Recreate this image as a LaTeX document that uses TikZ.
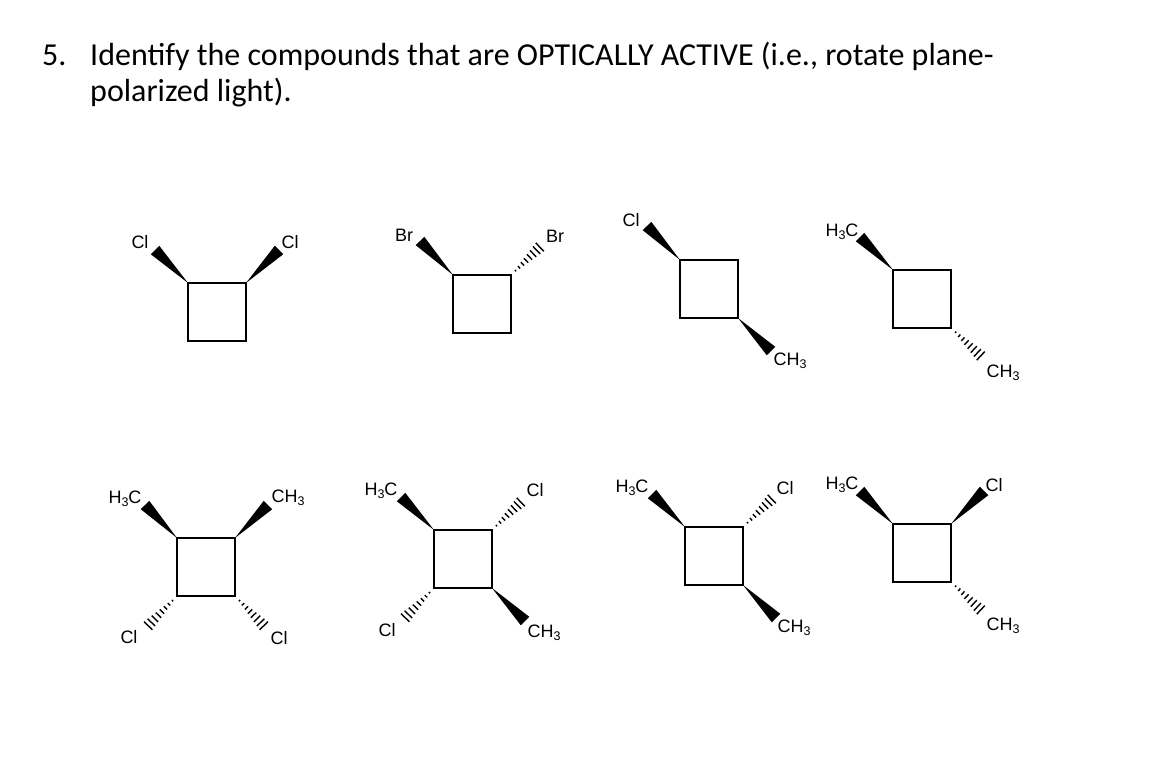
\documentclass[tikz,border=0pt]{standalone}
\usepackage{fontspec}
\setmainfont{Carlito}
\newfontfamily\arialfont{Liberation Sans}
\usetikzlibrary{calc}

\tikzset{
  atom/.style={inner sep=0pt,font=\arialfont\fontsize{18}{20}\selectfont},
  title/.style={inner sep=0pt,anchor=base west,font=\fontsize{32}{38}\selectfont},
  ring/.style={line width=1.5pt,line join=miter}
}
\newcommand{\lowthree}{\raisebox{-3.5pt}{\fontsize{12.5}{14}\selectfont 3}}

% square ring with corners #11 .. #14 (clockwise from top left)
\newcommand{\ringbox}[3]{
  \coordinate (#11) at (#2,#3);
  \coordinate (#12) at (#2+58,#3);
  \coordinate (#13) at (#2+58,#3+58);
  \coordinate (#14) at (#2,#3+58);
  \draw[ring] (#11) -- (#12) -- (#13) -- (#14) -- cycle;
}
% solid wedge from a corner
\newcommand{\wedgebond}[2]{
  \coordinate (#1end) at ($(#1)+(#2)$);
  \fill (#1) -- ($(#1end)!6pt!90:(#1)$) -- ($(#1end)!6pt!-90:(#1)$) -- cycle;
}
% hashed wedge from a corner
\newcommand{\hashbond}[2]{
  \coordinate (#1end) at ($(#1)+(#2)$);
  \foreach \t in {0.14,0.25,0.36,0.47,0.58,0.69,0.80,0.90,1.0}{
    \coordinate (hc) at ($(#1)!\t!(#1end)$);
    \draw[line width=1.4pt] ($(hc)!\t*6.5pt!90:(#1end)$) -- ($(hc)!\t*6.5pt!-90:(#1end)$);
  }
}

\begin{document}
\begin{tikzpicture}[x=1pt,y=-1pt]
\useasboundingbox (0,0) rectangle (1172,768);

\node[title] (num) at (42,66) {5.};
\node[title] (line1) at (90,66) {Identify the compounds that are OPTICALLY ACTIVE (i.e., rotate plane-};
\node[title] (line2) at (90,101) {polarized light).};

% top row
\ringbox{a}{188}{283}
\wedgebond{a1}{-33,-33}
\wedgebond{a2}{33,-33}
\node[atom] (a1cl) at (140,242) {Cl};
\node[atom] (a2cl) at (290,242) {Cl};

\ringbox{b}{453}{275}
\wedgebond{b1}{-33,-34}
\hashbond{b2}{32,-31}
\node[atom] (b1br) at (404,235) {Br};
\node[atom] (b2br) at (555,236) {Br};

\ringbox{c}{680}{260}
\wedgebond{c1}{-33,-34}
\wedgebond{c3}{33,33}
\node[atom] (c1cl) at (631,220) {Cl};
\node[atom] (c3me) at (790,361) {CH\lowthree};

\ringbox{d}{893}{270}
\wedgebond{d1}{-33,-33}
\hashbond{d3}{33,31}
\node[atom] (d1me) at (842,232) {H\lowthree C};
\node[atom] (d3me) at (1003,373) {CH\lowthree};

% bottom row
\ringbox{e}{177}{538}
\wedgebond{e1}{-32,-33}
\wedgebond{e2}{33,-33}
\hashbond{e4}{-32,33}
\hashbond{e3}{32,33}
\node[atom] (e1me) at (125,499) {H\lowthree C};
\node[atom] (e2me) at (288,498) {CH\lowthree};
\node[atom] (e4cl) at (129,637) {Cl};
\node[atom] (e3cl) at (279,638) {Cl};

\ringbox{f}{434}{530}
\wedgebond{f1}{-33,-33}
\hashbond{f2}{32,-31}
\hashbond{f4}{-32,33}
\wedgebond{f3}{33,33}
\node[atom] (f1me) at (381,491) {H\lowthree C};
\node[atom] (f2cl) at (535,490) {Cl};
\node[atom] (f4cl) at (387,630) {Cl};
\node[atom] (f3me) at (544,633) {CH\lowthree};

\ringbox{g}{685}{527}
\wedgebond{g1}{-33,-33}
\hashbond{g2}{32,-31}
\wedgebond{g3}{33,33}
\node[atom] (g1me) at (632,488) {H\lowthree C};
\node[atom] (g2cl) at (785,488) {Cl};
\node[atom] (g3me) at (794,628) {CH\lowthree};

\ringbox{h}{893}{524}
\wedgebond{h1}{-33,-33}
\wedgebond{h2}{33,-33}
\hashbond{h3}{33,31}
\node[atom] (h1me) at (842,485) {H\lowthree C};
\node[atom] (h2cl) at (994,485) {Cl};
\node[atom] (h3me) at (1003,626) {CH\lowthree};
\end{tikzpicture}
\end{document}
